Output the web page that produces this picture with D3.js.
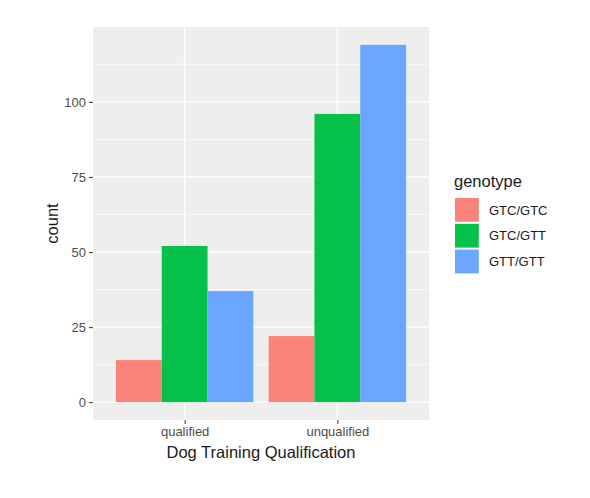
<!DOCTYPE html>
<html>
<head>
<meta charset="utf-8">
<script src="https://cdn.jsdelivr.net/npm/d3@7"></script>
<style>
  body { margin: 0; background: #fff; }
  text { font-family: "Liberation Sans", Arial, sans-serif; }
</style>
</head>
<body>
<svg id="chart"></svg>
<script>
// chart data
const qualifications = ['qualified', 'unqualified'];
const genotypes = ['GTC/GTC', 'GTC/GTT', 'GTT/GTT'];
const genotypeColors = ['#F9827A', '#06C149', '#6AA6FF'];
const countsQualified = [14, 52, 37];
const countsUnqualified = [22, 96, 119];
const yTicks = [0, 25, 50, 75, 100];
const yMinorTicks = [12.5, 37.5, 62.5, 87.5, 112.5];

const width = 590;
const height = 498;
const panel = { left: 93, top: 27, right: 429, bottom: 420 };
const tickFont = '13px';
const titleFont = '16.5px';

const rows = [];
qualifications.forEach((q, i) => {
  const values = i === 0 ? countsQualified : countsUnqualified;
  genotypes.forEach((g, j) => rows.push({ qualification: q, genotype: g, count: values[j] }));
});

const svg = d3.select('#chart')
  .attr('width', width)
  .attr('height', height);

// ggplot style: continuous axis expanded by 5%, discrete by 0.6 units
const maxCount = d3.max(rows, (d) => d.count);
const y = d3.scaleLinear()
  .domain([-maxCount * 0.05, maxCount * 1.05])
  .range([panel.bottom, panel.top]);

const xUnit = (panel.right - panel.left) / (qualifications.length - 1 + 1.2);
const x = d3.scalePoint()
  .domain(qualifications)
  .range([panel.left + 0.6 * xUnit, panel.right - 0.6 * xUnit]);
const barGroupWidth = 0.9 * xUnit;
const xInner = d3.scaleBand()
  .domain(genotypes)
  .range([-barGroupWidth / 2, barGroupWidth / 2]);
const color = d3.scaleOrdinal().domain(genotypes).range(genotypeColors);

// panel background
svg.append('rect')
  .attr('x', panel.left)
  .attr('y', panel.top)
  .attr('width', panel.right - panel.left)
  .attr('height', panel.bottom - panel.top)
  .attr('fill', '#EEEEEE');

// grid lines
const grid = svg.append('g').attr('stroke', '#fff');
grid.selectAll('.minor')
  .data(yMinorTicks)
  .enter()
  .append('line')
  .attr('x1', panel.left).attr('x2', panel.right)
  .attr('y1', (d) => y(d)).attr('y2', (d) => y(d))
  .attr('stroke-width', 0.7);
grid.selectAll('.major-y')
  .data(yTicks)
  .enter()
  .append('line')
  .attr('x1', panel.left).attr('x2', panel.right)
  .attr('y1', (d) => y(d)).attr('y2', (d) => y(d))
  .attr('stroke-width', 1.4);
grid.selectAll('.major-x')
  .data(qualifications)
  .enter()
  .append('line')
  .attr('x1', (d) => x(d)).attr('x2', (d) => x(d))
  .attr('y1', panel.top).attr('y2', panel.bottom)
  .attr('stroke-width', 1.4);

// bars
svg.append('g')
  .selectAll('rect')
  .data(rows)
  .enter()
  .append('rect')
  .attr('x', (d) => x(d.qualification) + xInner(d.genotype))
  .attr('y', (d) => y(d.count))
  .attr('width', xInner.bandwidth())
  .attr('height', (d) => y(0) - y(d.count))
  .attr('fill', (d) => color(d.genotype));

// y axis
const yAxis = svg.append('g')
  .attr('transform', `translate(${panel.left},0)`)
  .call(d3.axisLeft(y).tickValues(yTicks).tickSize(4).tickPadding(3));
yAxis.select('.domain').remove();
yAxis.selectAll('line').attr('stroke', '#444').attr('stroke-width', 1.1);
yAxis.selectAll('text').attr('fill', '#4D4D4D').style('font-size', tickFont)
  .style('font-family', '"Liberation Sans", Arial, sans-serif');

// x axis
const xAxis = svg.append('g')
  .attr('transform', `translate(0,${panel.bottom})`)
  .call(d3.axisBottom(x).tickSize(4).tickPadding(3));
xAxis.select('.domain').remove();
xAxis.selectAll('line').attr('stroke', '#444').attr('stroke-width', 1.1);
xAxis.selectAll('text').attr('fill', '#4D4D4D').style('font-size', tickFont)
  .style('font-family', '"Liberation Sans", Arial, sans-serif');

// axis titles
svg.append('text')
  .attr('x', (panel.left + panel.right) / 2)
  .attr('y', 458)
  .attr('text-anchor', 'middle')
  .style('font-size', titleFont)
  .attr('fill', '#1A1A1A')
  .text('Dog Training Qualification');
svg.append('text')
  .attr('transform', `translate(58,${(panel.top + panel.bottom) / 2}) rotate(-90)`)
  .attr('text-anchor', 'middle')
  .style('font-size', titleFont)
  .attr('fill', '#1A1A1A')
  .text('count');

// legend
const legend = svg.append('g').attr('transform', 'translate(454,0)');
legend.append('text')
  .attr('x', 0)
  .attr('y', 187)
  .style('font-size', titleFont)
  .attr('fill', '#1A1A1A')
  .text('genotype');
const keySize = 25.8;
const keys = legend.selectAll('.key')
  .data(genotypes)
  .enter()
  .append('g')
  .attr('transform', (d, i) => `translate(0,${197 + i * keySize})`);
keys.append('rect')
  .attr('x', 1)
  .attr('y', 1)
  .attr('width', keySize - 2)
  .attr('height', keySize - 2)
  .attr('fill', (d) => color(d));
keys.append('text')
  .attr('x', 35)
  .attr('y', keySize / 2)
  .attr('dy', '0.36em')
  .style('font-size', tickFont)
  .attr('fill', '#1A1A1A')
  .text((d) => d);
</script>
</body>
</html>
